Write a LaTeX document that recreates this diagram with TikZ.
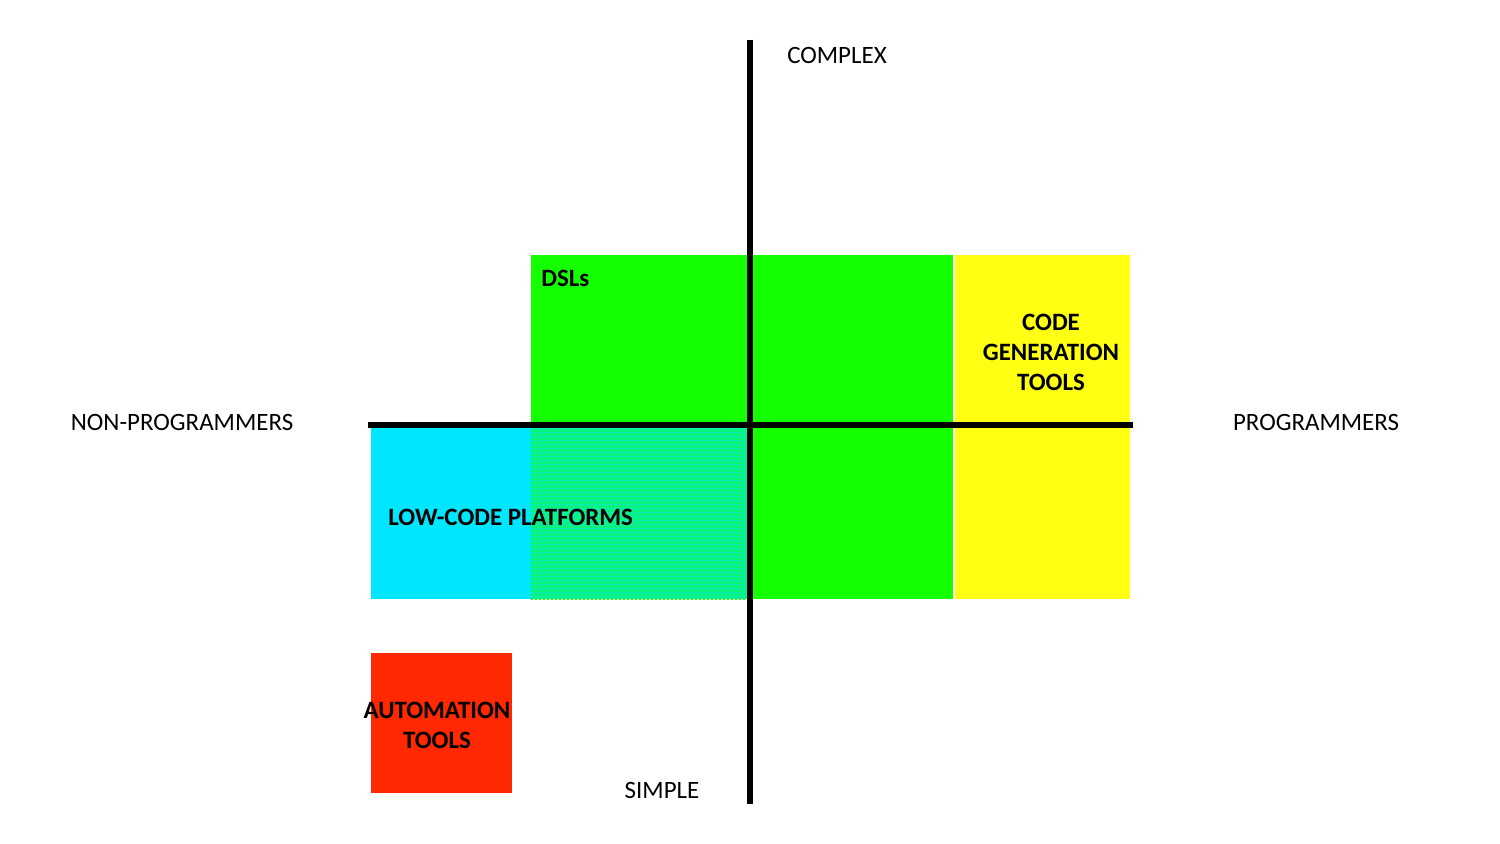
\documentclass[tikz,border=0pt]{standalone}
\usepackage{fontspec}
\setmainfont{Carlito}
\usetikzlibrary{patterns}
\pgfdeclarepatternformonly{finechecker}{\pgfpointorigin}{\pgfqpoint{2.4pt}{2.4pt}}{\pgfqpoint{2.4pt}{2.4pt}}{%
  \pgfpathrectangle{\pgfpointorigin}{\pgfqpoint{1.2pt}{1.2pt}}%
  \pgfpathrectangle{\pgfqpoint{1.2pt}{1.2pt}}{\pgfqpoint{1.2pt}{1.2pt}}%
  \pgfusepath{fill}}
\definecolor{cgreen}{RGB}{20,255,0}
\definecolor{ccyan}{RGB}{0,230,255}
\definecolor{cyellow}{RGB}{255,255,20}
\definecolor{cred}{RGB}{255,40,0}
\begin{document}
\begin{tikzpicture}[x=0.02cm,y=-0.02cm,
  axislabel/.style={font=\fontsize{14.2}{17}\selectfont, inner sep=0pt},
  boxlabel/.style={font=\fontsize{14.2}{17.1}\selectfont\bfseries, inner sep=0pt, align=center},
  axisline/.style={line width=3.4pt}]
\useasboundingbox[fill=white] (0,0) rectangle (1500,844);
% regions
\fill[cgreen] (531,255) rectangle (953,599);
\fill[cyellow] (955,255) rectangle (1130,599);
\fill[ccyan] (371,428) rectangle (531,599);
\fill[ccyan] (531,428) rectangle (748,599);
\fill[pattern=finechecker, pattern color=cgreen] (531,428) rectangle (748,599);
\fill[cred] (371,653) rectangle (512,793);
% axes
\coordinate (top) at (750,40);
\coordinate (bottom) at (750,804);
\coordinate (left) at (368,425);
\coordinate (right) at (1133,425);
\draw[axisline] (top) -- (bottom);
\draw[axisline] (left) -- (right);
% labels
\node[axislabel] (complex) at (837,55) {COMPLEX};
\node[axislabel] (simple) at (662,790) {SIMPLE};
\node[axislabel] (nonprog) at (182,422) {NON-PROGRAMMERS};
\node[axislabel] (prog) at (1316,422) {PROGRAMMERS};
\node[boxlabel, anchor=west] (dsl) at (541,278) {DSLs};
\node[boxlabel] (codegen) at (1051,352) {CODE\\GENERATION\\TOOLS};
\node[boxlabel, anchor=west] (lowcode) at (388,517) {LOW-CODE PLATFORMS};
\node[boxlabel] (auto) at (437,725) {AUTOMATION\\TOOLS};
\end{tikzpicture}
\end{document}
